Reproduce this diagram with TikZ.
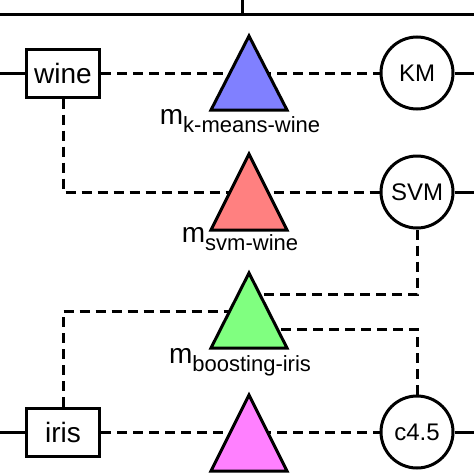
\documentclass[tikz,border=0pt]{standalone}
\usepackage{fontspec}
\setmainfont{Liberation Sans}
\definecolor{triblue}{RGB}{128,128,255}
\definecolor{trired}{RGB}{255,128,128}
\definecolor{trigreen}{RGB}{128,255,128}
\definecolor{trimag}{RGB}{255,128,255}
\newcommand{\mlab}[1]{m\raisebox{-8pt}{\fontsize{22}{24}\selectfont #1}}
\begin{document}
\begin{tikzpicture}[x=1pt,y=-1pt,
  lw/.style={line width=3pt},
  solidln/.style={lw},
  dashln/.style={lw,dash pattern=on 10pt off 6pt},
  databox/.style={draw,lw,rectangle,minimum width=73pt,minimum height=48pt,inner sep=0pt,fill=white,font=\fontsize{28}{30}\selectfont},
  algo/.style={draw,lw,circle,minimum size=72pt,inner sep=0pt,fill=white,font=\fontsize{24}{26}\selectfont},
  tri/.style={draw,lw,line join=miter},
  mlabel/.style={anchor=base,inner sep=0pt,font=\fontsize{28}{30}\selectfont}]
\useasboundingbox (0,0) rectangle (474,474);
% top bar
\coordinate (tl) at (0,14);
\coordinate (tr) at (474,14);
\coordinate (tt) at (242,0);
\coordinate (tm) at (242,14);
\draw[solidln] (tl) -- (tr);
\draw[solidln] (tt) -- (tm);
% nodes
\node[databox] (wine) at (63,73) {wine};
\node[databox] (iris) at (63,432) {iris};
\node[algo] (km) at (417,73) {KM};
\node[algo] (svm) at (417,192) {SVM};
\node[algo] (c45) at (417,432) {c4.5};
% triangle reference coordinates
\coordinate (t1) at (249,73);
\coordinate (t2) at (249,192);
\coordinate (t3a) at (249,294);
\coordinate (t3b) at (249,311);
\coordinate (t3c) at (249,329);
\coordinate (t4) at (249,433);
% edge coordinates
\coordinate (l1) at (0,73);
\coordinate (r1) at (474,73);
\coordinate (r2) at (474,192);
\coordinate (l4) at (0,432);
\coordinate (r4) at (474,432);
% connectors
\draw[solidln] (l1) -- (wine.west);
\draw[solidln] (km.east) -- (r1);
\draw[solidln] (svm.east) -- (r2);
\draw[solidln] (l4) -- (iris.west);
\draw[solidln] (c45.east) -- (r4);
\draw[dashln] (wine.east) -- (km.west);
\draw[dashln] (wine.south) |- (svm.west);
\draw[dashln] (svm.south) |- (t3a);
\draw[dashln] (iris.north) |- (t3b);
\draw[dashln] (t3c) -| (c45.north);
\draw[dashln] (iris.east) -- (c45.west);
% triangles
\draw[tri,fill=triblue] (249,36) -- (287,110) -- (211,110) -- cycle;
\draw[tri,fill=trired] (249,154) -- (287,230) -- (211,230) -- cycle;
\draw[tri,fill=trigreen] (249,273) -- (287,348) -- (211,348) -- cycle;
\draw[tri,fill=trimag] (249,395) -- (287,471) -- (211,471) -- cycle;
% labels
\node[mlabel] (lab1) at (240,124) {\mlab{k-means-wine}};
\node[mlabel] (lab2) at (240,242) {\mlab{svm-wine}};
\node[mlabel] (lab3) at (240,363) {\mlab{boosting-iris}};
\end{tikzpicture}
\end{document}
